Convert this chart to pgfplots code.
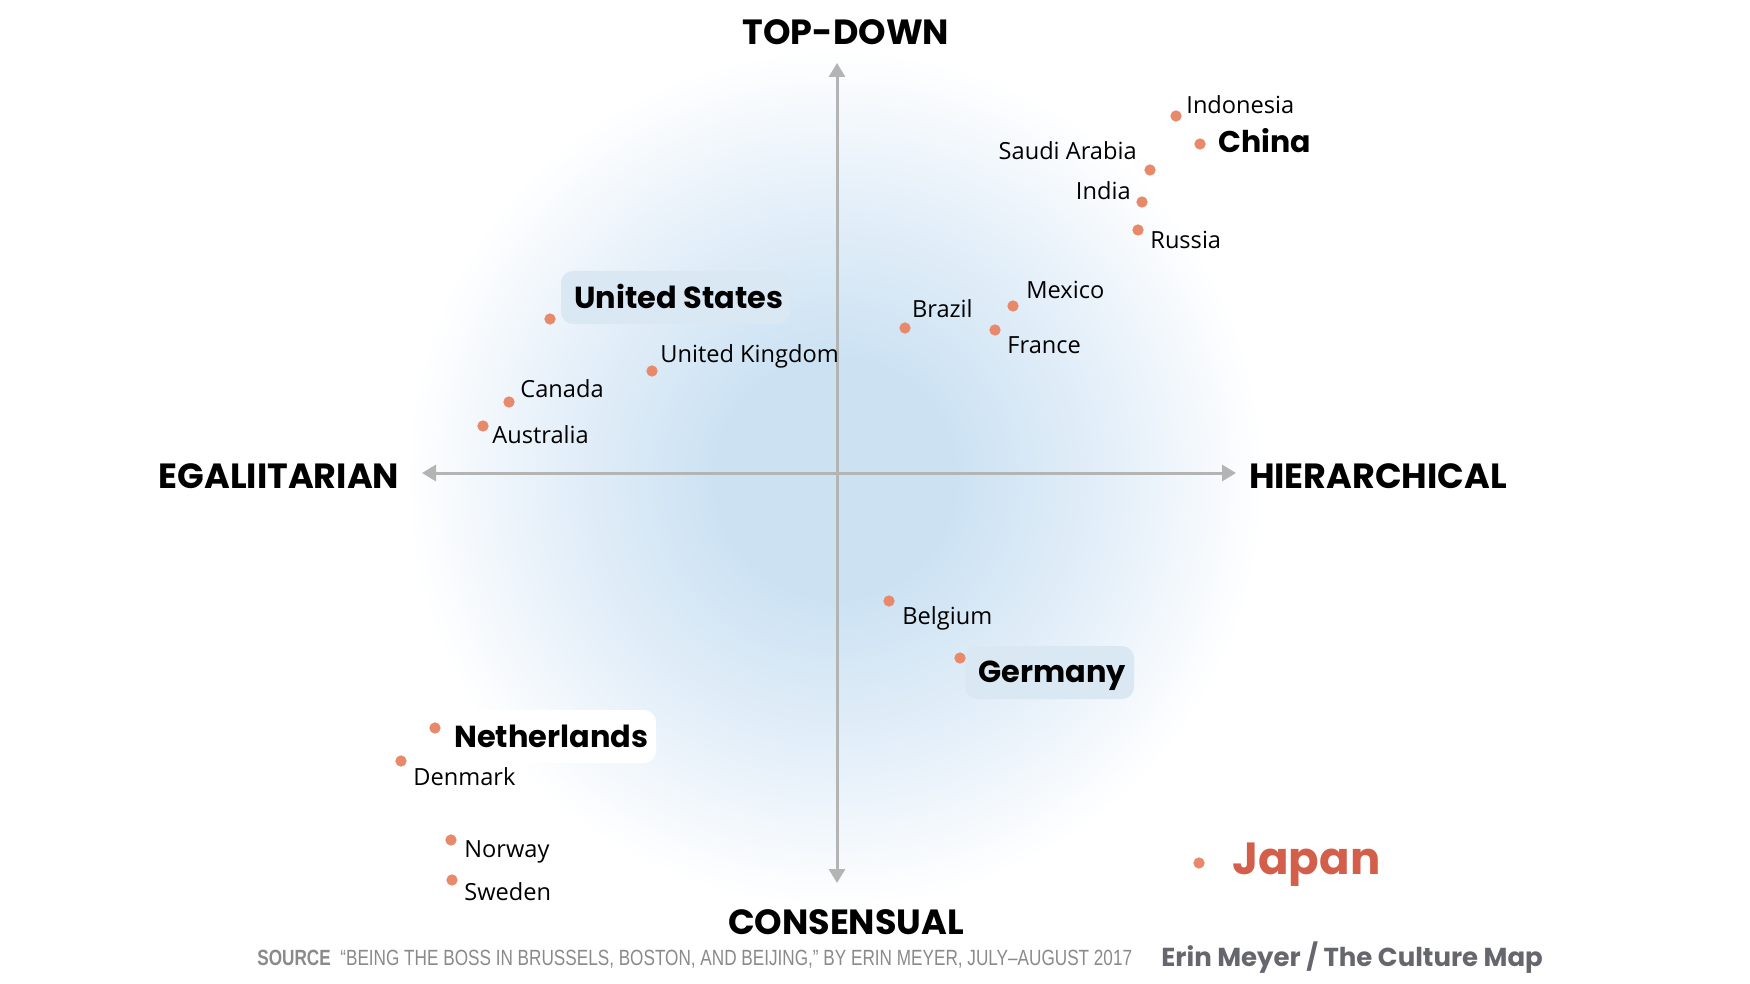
\documentclass[border=0pt]{standalone}
\usepackage{pgfplots}
\pgfplotsset{compat=1.18}
\usepackage{fontspec}
\setmainfont{Poppins}
\newfontfamily\lab{Open Sans}
\newfontfamily\cond[FakeStretch=0.78]{Liberation Sans}
\usetikzlibrary{arrows.meta}
\definecolor{dotc}{HTML}{E8896A}
\definecolor{axc}{HTML}{B4B4B4}
\definecolor{bcen}{HTML}{CCE2F3}
\definecolor{bmid}{HTML}{E4EFF9}
\definecolor{boxc}{HTML}{DAE8F3}
\definecolor{japc}{HTML}{D35F4B}
\definecolor{srcc}{HTML}{8A8A8A}
\definecolor{erinc}{HTML}{66666E}
\pgfdeclareradialshading{bluefade}{\pgfpoint{0bp}{0bp}}{color(0bp)=(bcen); color(7bp)=(bcen); color(16bp)=(bmid); color(25bp)=(white); color(50bp)=(white)}
\begin{document}
\begin{tikzpicture}
\begin{axis}[width=875pt,height=492pt,scale only axis,
  xmin=0,xmax=1750,ymin=0,ymax=984,y dir=reverse,
  hide axis,clip=false]
% background fade
\shade[shading=bluefade] (axis cs:835,478) circle [radius=215pt];
% label boxes
\fill[boxc,rounded corners=6pt] (axis cs:561,271) rectangle (axis cs:790,324);
\fill[boxc,rounded corners=6pt] (axis cs:965,646) rectangle (axis cs:1134,699);
\fill[white,rounded corners=6pt] (axis cs:442,710) rectangle (axis cs:656,763);
% axes
\draw[axc,line width=1.5pt,{Triangle[length=7pt,width=8pt]}-{Triangle[length=7pt,width=8pt]}] (axis cs:422,473) -- (axis cs:1236,473);
\draw[axc,line width=1.5pt,{Triangle[length=7pt,width=8pt]}-{Triangle[length=7pt,width=8pt]}] (axis cs:837,63) -- (axis cs:837,883);
% points
\addplot[only marks,mark=*,mark size=2.6pt,color=dotc,mark options={draw=none,fill=dotc}] coordinates {
(1176,116) (1200,144) (1150,170) (1142,202) (1138,230)
(1013,306) (905,328) (995,330)
(550,319) (652,371) (509,402) (483,426)
(889,601) (960,658)
(435,728) (401,761) (451,840) (452,880)
(1199,863)};
% axis titles
\begin{scope}[every node/.style={inner sep=0pt,anchor=base}]
\node[font=\fontsize{17.5}{20}\selectfont\bfseries] at (axis cs:846,45) {TOP-DOWN};
\node[font=\fontsize{17.5}{20}\selectfont\bfseries] at (axis cs:846,934) {CONSENSUAL};
\node[font=\fontsize{17.5}{20}\selectfont\bfseries] at (axis cs:279,488) {EGALIITARIAN};
\node[font=\fontsize{17.5}{20}\selectfont\bfseries] at (axis cs:1378,488) {HIERARCHICAL};
\end{scope}
% country labels
\begin{scope}[every node/.style={inner sep=0pt,font=\lab\fontsize{11.8}{13}\selectfont}]
\node[anchor=base west] at (axis cs:1186,114) {Indonesia};
\node[anchor=base east] at (axis cs:1137,160) {Saudi Arabia};
\node[anchor=base east] at (axis cs:1131,200) {India};
\node[anchor=base west] at (axis cs:1150,249) {Russia};
\node[anchor=base west] at (axis cs:1026,299) {Mexico};
\node[anchor=base east] at (axis cs:973,317) {Brazil};
\node[anchor=base west] at (axis cs:1007,353) {France};
\node[anchor=base west] at (axis cs:660,362) {United Kingdom};
\node[anchor=base west] at (axis cs:520,397) {Canada};
\node[anchor=base west] at (axis cs:492,443) {Australia};
\node[anchor=base west] at (axis cs:902,624) {Belgium};
\node[anchor=base west] at (axis cs:413,785) {Denmark};
\node[anchor=base west] at (axis cs:464,857) {Norway};
\node[anchor=base west] at (axis cs:464,900) {Sweden};
\end{scope}
\begin{scope}[every node/.style={inner sep=0pt,anchor=base west}]
\node[font=\fontsize{15}{17}\selectfont\bfseries] at (axis cs:1218,153) {China};
\node[font=\fontsize{15.2}{18}\selectfont\bfseries] at (axis cs:574,308) {United States};
\node[font=\fontsize{15.2}{18}\selectfont\bfseries] at (axis cs:978,682) {Germany};
\node[font=\fontsize{15.2}{18}\selectfont\bfseries] at (axis cs:454,747) {Netherlands};
\node[font=\fontsize{22.5}{26}\selectfont\bfseries,text=japc] at (axis cs:1232,874) {Japan};
\node[font=\fontsize{13}{15}\selectfont\bfseries,text=erinc] at (axis cs:1161,966) {Erin Meyer / The Culture Map};
\node[font=\cond\fontsize{11}{13}\selectfont,text=srcc] at (axis cs:257,965) {\textbf{SOURCE}\ \ “BEING THE BOSS IN BRUSSELS, BOSTON, AND BEIJING,” BY ERIN MEYER, JULY–AUGUST 2017};
\end{scope}
\end{axis}
\pgfresetboundingbox
\useasboundingbox (0,0) rectangle (875pt,492pt);
\end{tikzpicture}
\end{document}
